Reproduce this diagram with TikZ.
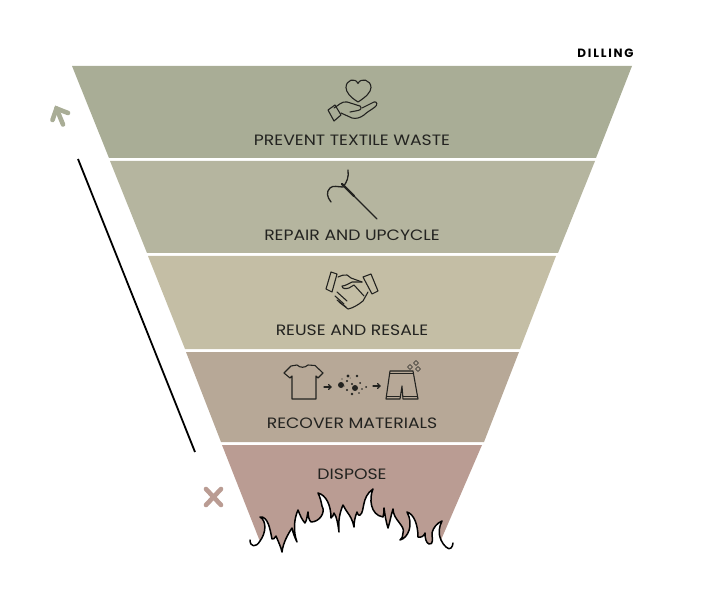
\documentclass[tikz,border=0pt]{standalone}
\usepackage{fontspec}
\setmainfont{Poppins}[FakeStretch=1.15]
\newfontfamily\brandfont{Poppins}[LetterSpace=15]
\usepackage{xcolor}
\usetikzlibrary{positioning,calc,arrows.meta}
\definecolor{levelone}{HTML}{A9AD96}
\definecolor{leveltwo}{HTML}{B5B59F}
\definecolor{levelthree}{HTML}{C4BEA5}
\definecolor{levelfour}{HTML}{B7A897}
\definecolor{levelfive}{HTML}{BA9C93}
\definecolor{inkdark}{HTML}{232320}
\tikzset{
    levellabel/.style={text=inkdark, font=\fontsize{15}{17}\selectfont, inner sep=0pt},
    icon/.style={draw=inkdark, line width=1.1pt, line join=round, line cap=round},
    flame/.style={draw=black, line width=1.5pt, line join=round, line cap=round},
    mark stroke/.style={line width=4.6pt, line cap=round, line join=miter}
}
% the burning lower edge, left to right
\newcommand{\flameedge}{(260,541) .. controls (266,533) and (267,521) .. (260,517)
    .. controls (268,516) and (270,529) .. (272,539) .. controls (273,540) and (275,538) .. (276,536)
    .. controls (278,541) and (281,547) .. (282,552) .. controls (283,543) and (288,534) .. (292,528)
    .. controls (293,533) and (295,538) .. (297,542) .. controls (293,531) and (294,519) .. (298,510)
    .. controls (300,515) and (302,520) .. (305,523) .. controls (307,520) and (307,516) .. (308,512)
    .. controls (308,516) and (309,520) .. (311,522) .. controls (319,522) and (326,513) .. (322,506)
    .. controls (321,501) and (320,497) .. (318,493) .. controls (326,495) and (331,505) .. (331,518)
    .. controls (333,517) and (333,515) .. (334,513) .. controls (337,517) and (338,525) .. (339,532)
    .. controls (338,520) and (340,512) .. (343,505) .. controls (346,511) and (349,514) .. (351,518)
    .. controls (353,521) and (353,524) .. (354,527) .. controls (354,522) and (355,517) .. (357,512)
    .. controls (358,515) and (359,516) .. (360,515) .. controls (365,512) and (361,497) .. (373,489)
    .. controls (369,498) and (370,515) .. (383,517) .. controls (384,514) and (384,511) .. (384,508)
    .. controls (385,515) and (386,522) .. (388,528) .. controls (390,522) and (391,515) .. (393,509)
    .. controls (393,520) and (406,526) .. (403,533) .. controls (403,536) and (402,539) .. (400,540)
    .. controls (408,538) and (414,525) .. (407,512) .. controls (414,514) and (418,525) .. (418,537)
    .. controls (421,538) and (424,536) .. (425,533) .. controls (425,538) and (426,543) .. (429,544)
    .. controls (434,545) and (432,538) .. (432,533) .. controls (433,528) and (437,523) .. (442,521)
    .. controls (439,527) and (438,533) .. (441,540)}
\begin{document}
\begin{tikzpicture}[x=1pt, y=-1pt]
    \useasboundingbox (0,0) rectangle (701,601);

    % the five levels
    \fill[levelone] (72,66) -- (632,66) -- (596,158) -- (109,158) -- cycle;
    \fill[leveltwo] (110,161) -- (595,161) -- (558,253) -- (147,253) -- cycle;
    \fill[levelthree] (148,256) -- (556,256) -- (520,349) -- (185,349) -- cycle;
    \fill[levelfour] (186,352) -- (519,352) -- (484,442) -- (221,442) -- cycle;
    \fill[levelfive] (222,445) -- (259,539) -- \flameedge -- (482,445) -- cycle;

    % flames
    \draw[flame] (250,540) .. controls (250,547) and (256,548) .. (260,541);
    \draw[flame] \flameedge;
    \draw[flame] (441,540) .. controls (443,545) and (449,551) .. (451,548) .. controls (452,547) and (453,545) .. (453,543);

    % labels
    \node[levellabel] (prevent) at (352,140) {PREVENT TEXTILE WASTE};
    \node[levellabel] (repair) at (352,235) {REPAIR AND UPCYCLE};
    \node[levellabel] (reuse) at (352,330) {REUSE AND RESALE};
    \node[levellabel] (recover) at (352,423) {RECOVER MATERIALS};
    \node[levellabel] (dispose) at (352,474) {DISPOSE};
    \node[text=black, font=\brandfont\fontsize{12}{14}\selectfont\bfseries, inner sep=0pt] (brand) at (605.5,53) {DILLING};

    % side line, arrow and cross
    \coordinate (linetop) at (78,159);
    \coordinate (linebottom) at (195,452);
    \draw[black, line width=1.8pt] (linetop) -- (linebottom);
    \draw[levelone, mark stroke] (52.5,120) -- (56.5,108.5) -- (68,113);
    \draw[levelone, mark stroke] (56.5,108.5) -- (63,124.5);
    \draw[levelfive, mark stroke] (206,489) -- (221,505);
    \draw[levelfive, mark stroke] (221,489) -- (206,505);

    % heart in hand
    \draw[icon] (358,102) .. controls (350,97) and (346,92) .. (346,87.5) .. controls (346,80) and (355,77) .. (358,83.5)
        .. controls (361,77) and (371,80) .. (371,87.5) .. controls (371,92) and (366,97) .. (358,102);
    \draw[icon] (328,110) -- (335,105) -- (341,115) -- (334,121) -- cycle;
    \draw[icon] (334,108) .. controls (339,105) and (342,101) .. (347,102) .. controls (351,103) and (356,105) .. (360,106)
        .. controls (362,108) and (361,110) .. (358,110.5) -- (350,112);
    \draw[icon] (362,108) -- (374,102) .. controls (377,101) and (378,105) .. (375,107) .. controls (371,110) and (367,112) .. (364,115)
        .. controls (360,118) and (356,119) .. (352,118) -- (341,113);

    % needle and thread
    \draw[icon, line width=1.3pt] (348,170) .. controls (349,177) and (347,182) .. (343,187)
        .. controls (338,187) and (333,185) .. (330,188) .. controls (326,192) and (327,197) .. (331,202);
    \draw[icon, line width=2.4pt] (342,184) -- (354,196);
    \draw[icon, line width=1.3pt] (354,196) -- (377,219);

    % handshake
    \draw[icon] (331,272) -- (337,274) -- (332,292) -- (326,289) -- cycle;
    \draw[icon] (363,277) -- (371,274) -- (378,291) -- (372,294) -- cycle;
    \draw[icon] (338,277) .. controls (341,276) and (344,274) .. (347,275) -- (351,278) -- (362,282);
    \draw[icon] (362,282) -- (352,282) .. controls (348,284) and (345,286) .. (342,286) .. controls (342,289) and (346,289) .. (349,288) -- (354,285) -- (364,296);
    \draw[icon] (368,292) -- (363,301) .. controls (358,305) and (353,308) .. (348,309) -- (339,302);
    \draw[icon] (337,292) -- (347,301);
    \draw[icon] (335,296) -- (344,304);
    \draw[icon] (337,300) -- (346,307);

    % shirt to shorts
    \draw[icon] (297,365) .. controls (300,368) and (305,368) .. (308,365) -- (315,365.5) -- (323,373) -- (318,378) -- (316,376) -- (316,399) -- (292,399) -- (292,376) -- (290,378) -- (284,373) -- (291,366) -- cycle;
    \draw[icon] (324,387) -- (331,387);
    \draw[icon] (328.5,384.5) -- (331,387) -- (328.5,389.5);
    \draw[icon] (373,386) -- (380,386);
    \draw[icon] (377.5,383.5) -- (380,386) -- (377.5,388.5);
    \foreach \x/\y/\r in {341/385/3, 355/388/3, 348/376/1.7, 357/376/1.3, 347/381/1.1, 352/384/1.1, 360/383/1, 347/390/1.2, 352/394/1.4, 359/393/.9, 366/387/1, 362/389/.8, 342/379/.6, 344/386/.5, 350/378/.5} {
        \fill[inkdark] (\x,\y) circle (\r);
    }
    \draw[icon] (390,371) -- (413,371) -- (418,399) -- (403,399) -- (402,386) -- (400,399) -- (386,399) -- cycle;
    \draw[icon, line width=.8pt] (387,396) -- (399.5,396);
    \draw[icon, line width=.8pt] (403,396) -- (417.5,396);
    \draw[icon, line width=.7pt] (390,373) -- (413,373);
    \foreach \x/\y in {410/367, 416/363, 418/369} {
        \draw[icon, line width=.6pt] (\x-2.5,\y) -- (\x,\y-2.5) -- (\x+2.5,\y) -- (\x,\y+2.5) -- cycle;
    }
\end{tikzpicture}
\end{document}
